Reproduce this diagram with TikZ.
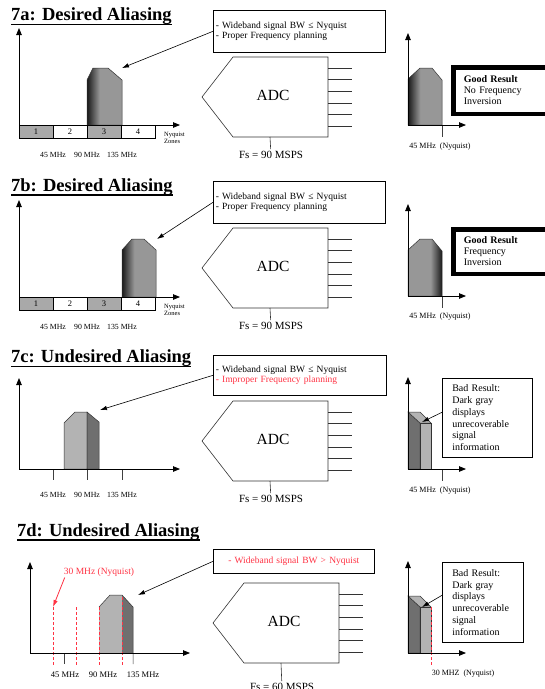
\documentclass[tikz,border=0pt]{standalone}
\usepackage{fontspec}
\setmainfont{Liberation Serif}
\usetikzlibrary{positioning,arrows.meta}

\definecolor{zonegray}{HTML}{A9A9A9}
\definecolor{siggray}{HTML}{979797}
\definecolor{lightsig}{HTML}{B3B3B3}
\definecolor{darksig}{HTML}{6F6F6F}
\definecolor{alertred}{HTML}{FF3344}
\pgfdeclarehorizontalshading{darkleft}{100bp}{color(0bp)=(black!90); color(25bp)=(black!90); color(43bp)=(siggray); color(100bp)=(siggray)}
\pgfdeclarehorizontalshading{darkright}{100bp}{color(0bp)=(siggray); color(58bp)=(siggray); color(75bp)=(black!90); color(100bp)=(black!90)}

\begin{document}
\begin{tikzpicture}[x=1pt, y=-1pt,
    plotaxis/.style={line width=0.8pt, -{Triangle[length=7pt,width=5.5pt]}},
    freqtick/.style={line width=0.6pt, black!75},
    zone/.style={draw, line width=0.6pt, minimum width=34pt, minimum height=13pt,
      inner sep=0pt, outer sep=0pt, font=\fontsize{8.5}{9}\selectfont},
    zonetext/.style={align=left, inner sep=0pt, font=\fontsize{6.5}{6.5}\selectfont},
    freq/.style={inner sep=0pt, font=\fontsize{7.8}{8}\selectfont},
    rfreq/.style={inner sep=0pt, font=\fontsize{8}{8}\selectfont},
    pointer/.style={line width=0.6pt, -{Latex[length=7pt,width=4.5pt]}},
    redpointer/.style={alertred, line width=0.8pt, -{Latex[length=7pt,width=4.5pt]}},
    note/.style={draw, line width=0.6pt, align=left, anchor=north west,
      inner xsep=2.5pt, font=\fontsize{9.5}{10.8}\selectfont},
    goodbox/.style={draw, line width=4.5pt, align=left, anchor=north west,
      text width=85pt, inner xsep=10.5pt, font=\fontsize{10}{11}\selectfont},
    badbox/.style={draw, line width=0.6pt, align=left, anchor=north west,
      inner xsep=10pt, font=\fontsize{10}{11.8}\selectfont},
    paneltitle/.style={anchor=base west, inner sep=0pt, font=\bfseries\fontsize{18.5}{20}\selectfont},
    sigshape/.style={draw=black!80, line width=0.5pt},
    nyqdash/.style={alertred, line width=0.8pt, dash pattern=on 3pt off 2pt},
    adcbody/.style={line width=0.6pt, black!80},
    adctext/.style={font=\fontsize{15.5}{16}\selectfont},
    fstext/.style={inner sep=2pt, font=\fontsize{11}{12}\selectfont}
  ]
  \useasboundingbox (0,0) rectangle (545,689);
  \clip (0,0) rectangle (545,689);

  % panel titles
  \foreach \n/\tx/\ty/\adj in {a/11/20.7/Desired, b/11/191/Desired, c/11/362.7/Undesired, d/17/536/Undesired} {
    \node[paneltitle] (title\n) at (\tx,\ty) {7\n: \adj\ Aliasing};
    \draw[line width=1.4pt] ([yshift=-4pt]title\n.base west) -- ([yshift=-4pt]title\n.base east);
  }

  % call-outs above the converters
  \node[note, text width=167pt, minimum height=42pt] (notea) at (213,10)
    {- Wideband signal BW ≤ Nyquist\\- Proper Frequency planning};
  \node[note, text width=167pt, minimum height=42pt] (noteb) at (213,181)
    {- Wideband signal BW ≤ Nyquist\\- Proper Frequency planning};
  \node[note, text width=168pt, minimum height=40pt] (notec) at (213,355)
    {- Wideband signal BW ≤ Nyquist\\\textcolor{alertred}{- Improper Frequency planning}};
  \node[note, align=center, text width=156pt, minimum height=24pt, text=alertred] (noted) at (213,549)
    {- Wideband signal BW > Nyquist};

  % converters
  \foreach \n/\ax/\ay/\fs/\fy in {a/233/57/90/98, b/233/228/90/98, c/233/401/90/98, d/244/583/60/104} {
    \draw[adcbody] (\ax,\ay) -- ++(95,0) -- ++(0,80) -- ++(-95,0) -- ++(-31,-40) -- cycle;
    \foreach \k in {0,...,5}
      \draw[adcbody] (\ax+95,\ay+11+11.6*\k) -- ++(24,0);
    \node[adctext] (adc\n) at (\ax+40,\ay+38) {ADC};
    \coordinate (clk\n) at (\ax+37,\ay+80);
    \node[fstext] (fs\n) at (\ax+38,\ay+\fy) {Fs = \fs\ MSPS};
    \draw[adcbody] (clk\n) -- (fs\n);
  }

  % 7a and 7b: input spectrum over the Nyquist zones
  \shadedraw[shading=darkleft, sigshape] (87,125) -- (87,80) -- (93,68) -- (108,68) -- (122,80) -- (122,125) -- cycle;
  \coordinate (tipa) at (122,68);
  \shadedraw[shading=darkleft, sigshape] (122,297) -- (122,250) -- (132,239) -- (144,239) -- (156,250) -- (156,297) -- cycle;
  \coordinate (tipb) at (157,239);
  \foreach \p/\zy in {a/125, b/297} {
    \node[zone, fill=zonegray, anchor=north west] (z\p1) at (19,\zy) {1};
    \node[zone, right=0pt of z\p1] (z\p2) {2};
    \node[zone, fill=zonegray, right=0pt of z\p2] (z\p3) {3};
    \node[zone, right=0pt of z\p3] (z\p4) {4};
    \node[zonetext, right=9pt of z\p4.south east] (zl\p) {Nyquist\\Zones};
    \foreach \f/\fx in {45/53, 90/87, 135/122}
      \node[freq] (f\p\f) at (\fx,\zy+30) {\f\ MHz};
    \draw[plotaxis] (19,\zy) -- (19,\zy-97);
    \draw[plotaxis] (19,\zy) -- (180,\zy);
  }

  % 7c: input spectrum
  \filldraw[fill=lightsig, sigshape] (64,469) -- (64,423) -- (75,412) -- (87,412) -- (87,469) -- cycle;
  \filldraw[fill=darksig, sigshape] (87,469) -- (87,412) -- (99,422) -- (99,469) -- cycle;
  \coordinate (tipc) at (100,410);
  \foreach \f/\fx in {45/53, 90/87, 135/122} {
    \draw[freqtick] (\fx,469) -- (\fx,480);
    \node[freq] (fc\f) at (\fx,495) {\f\ MHz};
  }
  \draw[plotaxis] (19,469) -- (19,378);
  \draw[plotaxis] (19,469) -- (180,469);

  % 7d: input spectrum, Fs = 60 MSPS
  \fill[lightsig] (99,653) -- (99,607) -- (110,595) -- (122,595) -- (122,653) -- cycle;
  \fill[darksig] (122,653) -- (122,595) -- (133,607) -- (133,653) -- cycle;
  \draw[sigshape] (99,607) -- (110,595) -- (122,595) -- (133,607) -- (133,664);
  \coordinate (tipd) at (138,595);
  \draw[freqtick] (64,653) -- (64,664);
  \foreach \x/\yt in {53/607, 76/607, 99/607, 122/597}
    \draw[nyqdash] (\x,\yt) -- (\x,665);
  \foreach \f/\fx in {45/65, 90/103, 135/143}
    \node[freq, font=\fontsize{8.5}{9}\selectfont] (fd\f) at (\fx,675) {\f\ MHz};
  \node[inner sep=1pt, text=alertred, font=\fontsize{9.5}{10}\selectfont] (nyq30) at (99,572) {30 MHz (Nyquist)};
  \coordinate (dash30) at (53,607);
  \draw[redpointer] ([xshift=2pt]nyq30.south west) -- (dash30);
  \draw[plotaxis] (30,653) -- (30,562);
  \draw[plotaxis] (30,653) -- (190,653);

  \foreach \n in {a,b,c,d}
    \draw[pointer] (note\n.west) -- (tip\n);

  % output spectra
  \shadedraw[shading=darkleft, sigshape] (408,125) -- (408,79) -- (420,68) -- (432,68) -- (442,80) -- (442,125) -- cycle;
  \shadedraw[shading=darkright, sigshape] (408,296) -- (408,250) -- (420,239) -- (432,239) -- (442,251) -- (442,296) -- cycle;
  \foreach \ry in {469,653} {
    \filldraw[fill=darksig, sigshape] (408,\ry) -- (408,\ry-57) -- (420,\ry-46) -- (420,\ry) -- cycle;
    \filldraw[fill=lightsig, sigshape] (408,\ry-57) -- (420,\ry-57) -- (431,\ry-46) -- (420,\ry-46) -- cycle;
    \filldraw[fill=lightsig, sigshape] (420,\ry-46) -- (431,\ry-46) -- (431,\ry) -- (420,\ry) -- cycle;
  }
  \foreach \ry in {125,296,469}
    \draw[freqtick] (442,\ry) -- (442,\ry+12);
  \draw[nyqdash] (431,607) -- (431,665);
  \foreach \ry in {125,296,469,653} {
    \draw[plotaxis] (408,\ry) -- (408,\ry-92);
    \draw[plotaxis] (408,\ry) -- (466,\ry);
  }
  \node[rfreq] (nyqa) at (440,147) {45 MHz\ \ (Nyquist)};
  \node[rfreq] (nyqb) at (440,317) {45 MHz\ \ (Nyquist)};
  \node[rfreq] (nyqc) at (440,491) {45 MHz\ \ (Nyquist)};
  \node[rfreq] (nyqd) at (463,674) {30 MHZ\ \ (Nyquist)};

  % result boxes
  \node[goodbox, minimum height=46.5pt] (gooda) at (451,65) {\textbf{Good Result}\\No Frequency\\Inversion};
  \node[goodbox, minimum height=44.5pt] (goodb) at (451,227) {\textbf{Good Result}\\Frequency\\Inversion};
  \node[badbox, text width=70pt, minimum height=79pt] (badc) at (442,378)
    {Bad Result:\\Dark gray\\displays\\unrecoverable\\signal\\information};
  \node[badbox, text width=61pt, minimum height=80pt] (badd) at (442,562)
    {Bad Result:\\Dark gray\\displays\\unrecoverable\\signal\\information};
  \coordinate (hitc) at (422,422);
  \coordinate (hitd) at (422,607);
  \draw[pointer] ([yshift=5.5pt]badc.west) -- (hitc);
  \draw[pointer] ([yshift=7pt]badd.west) -- (hitd);
\end{tikzpicture}
\end{document}
